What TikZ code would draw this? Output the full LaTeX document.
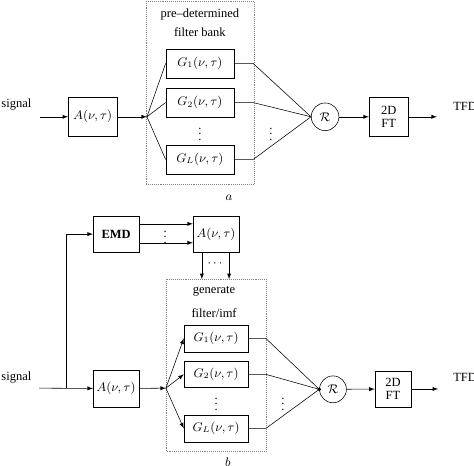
\documentclass[tikz,border=0pt]{standalone}
\usepackage{amsmath,amssymb}
\usepackage{fontspec}
\setmainfont{Liberation Serif}
\usetikzlibrary{calc,arrows}
\tikzset{>=latex}
\tikzset{blk/.style={draw, minimum width=1.24cm, minimum height=0.99cm, inner sep=1pt, font=\small},
 gblk/.style={draw, minimum width=1.72cm, minimum height=0.73cm, inner sep=1pt, font=\small},
 sumnode/.style={draw, circle, minimum size=0.7cm, inner sep=0pt, font=\small},
 bank/.style={draw, densely dotted, gray},
 lbl/.style={font=\small, inner sep=0pt},
 dots/.style={font=\small, inner sep=0pt}}

\begin{document}
\begin{tikzpicture}
\useasboundingbox (0,0) rectangle (12,11.797);
% --- panel a
\draw[bank] (3.70,7.14) rectangle (6.43,11.77);
\node[lbl] (pda) at (5.06,11.44) {pre--determined};
\node[lbl] (fba) at (5.06,10.99) {filter bank};
\node[lbl, anchor=east] (siga) at (0.80,9.16) {signal};
\coordinate (ina) at (1.01,8.84);
\node[blk] (Aa) at (2.35,8.84) {$A(\nu,\tau)$};
\coordinate (bra) at (3.72,8.84);
\node[gblk] (G1a) at (5.06,10.19) {$G_1(\nu,\tau)$};
\node[gblk] (G2a) at (5.06,9.20) {$G_2(\nu,\tau)$};
\node[gblk] (GLa) at (5.06,7.76) {$G_L(\nu,\tau)$};
\node[dots] (v1a) at (5.06,8.51) {$\vdots$};
\node[dots] (v2a) at (6.86,8.51) {$\vdots$};
\coordinate (edgea) at (6.41,0);
\node[sumnode] (Ra) at (8.23,8.84) {$\mathcal{R}$};
\node[blk, minimum width=0.99cm, align=center] (FTa) at (9.84,8.84) {2D\\[-2pt]FT};
\coordinate (outa) at (11.06,8.84);
\node[lbl, anchor=west] (tfda) at (11.47,9.09) {TFD};
\node[lbl] (capa) at (5.80,6.78) {$a$};
\draw[->] (ina) -- (Aa);
\draw[->] (Aa) -- (bra);
\foreach \g in {G1a,G2a,GLa}
  \draw (bra) -- (\g.west);
\foreach \g in {G1a,G2a,GLa}
  \draw (\g.east) -- (\g.east -| edgea) -- (Ra.west);
\draw[->] (Ra) -- (FTa);
\draw[->] (FTa) -- (outa);

% --- panel b
\draw[bank] (4.20,0.38) rectangle (6.73,4.73);
\coordinate (topb) at (0,4.73);
\node[lbl] (gnb) at (5.42,4.41) {generate};
\node[lbl] (fib) at (5.42,3.87) {filter/imf};
\node[lbl, anchor=east] (sigb) at (0.80,2.25) {signal};
\coordinate (inb) at (0.99,1.97);
\coordinate (splitb) at (1.67,1.97);
\node[blk, minimum width=1.16cm, minimum height=0.91cm] (EMD) at (2.94,5.87) {\textbf{EMD}};
\node[blk, minimum width=1.16cm, minimum height=0.91cm] (At) at (5.47,5.87) {$A(\nu,\tau)$};
\node[dots] (v0b) at (4.18,5.90) {$\vdots$};
\node[dots] (h0b) at (5.47,5.12) {$\cdots$};
\node[blk, minimum width=1.16cm, minimum height=0.94cm] (Ab) at (2.94,1.96) {$A(\nu,\tau)$};
\coordinate (brb) at (4.20,1.97);
\node[gblk, minimum width=1.62cm, minimum height=0.68cm] (G1b) at (5.47,3.23) {$G_1(\nu,\tau)$};
\node[gblk, minimum width=1.62cm, minimum height=0.68cm] (G2b) at (5.47,2.32) {$G_2(\nu,\tau)$};
\node[gblk, minimum width=1.62cm, minimum height=0.68cm] (GLb) at (5.47,0.95) {$G_L(\nu,\tau)$};
\node[dots] (v1b) at (5.47,1.67) {$\vdots$};
\node[dots] (v2b) at (7.16,1.67) {$\vdots$};
\coordinate (edgeb) at (6.73,0);
\node[sumnode, minimum size=0.68cm] (Rb) at (8.43,1.94) {$\mathcal{R}$};
\node[blk, minimum width=0.91cm, minimum height=0.91cm, align=center] (FTb) at (9.95,1.95) {2D\\[-2pt]FT};
\coordinate (outb) at (11.09,1.95);
\node[lbl, anchor=west] (tfdb) at (11.47,2.23) {TFD};
\node[lbl] (capb) at (5.77,0.10) {$b$};
\draw[->] (inb) -- (Ab);
\draw[->] (splitb) |- (EMD.west);
\draw[->] ([yshift=0.26cm]EMD.east) -- ([yshift=0.26cm]EMD.east -| At.west);
\draw[->] ([yshift=-0.22cm]EMD.east) -- ([yshift=-0.22cm]EMD.east -| At.west);
\coordinate (d1) at ([xshift=-0.36cm]At.south);
\coordinate (d2) at ([xshift=0.33cm]At.south);
\draw[->] (d1) -- (d1 |- topb);
\draw[->] (d2) -- (d2 |- topb);
\draw[->] (Ab) -- (brb);
\foreach \g in {G1b,G2b,GLb}
  \draw[->] (brb) -- (\g.west);
\foreach \g in {G1b,G2b,GLb}
  \draw (\g.east) -- (\g.east -| edgeb) -- (Rb.west);
\fill (Rb.west) circle (1.4pt);
\draw[->] (Rb) -- (FTb);
\draw[->] (FTb) -- (outb);
\end{tikzpicture}
\end{document}
